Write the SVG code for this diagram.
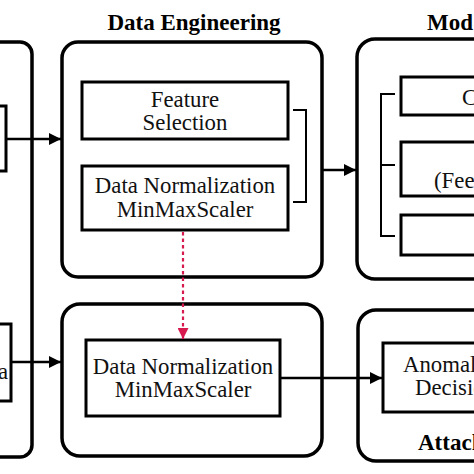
<svg xmlns="http://www.w3.org/2000/svg" width="474" height="474" viewBox="0 0 474 474">
<defs>
<style>
.outer{fill:none;stroke:#000;stroke-width:3.5}
.inner{fill:#fff;stroke:#000;stroke-width:3}
.brk{fill:none;stroke:#000;stroke-width:2}
.t{font-family:"Liberation Serif","Times New Roman",serif;font-size:22.8px;fill:#111}
.title{font-family:"Liberation Serif","Times New Roman",serif;font-size:23px;font-weight:bold;fill:#000}
.conn{fill:none;stroke:#000;stroke-width:2.5}
.dash{fill:none;stroke:#d81b4f;stroke-width:2.2;stroke-dasharray:3.5 3}
</style>
<marker id="ah" viewBox="0 0 10 10" refX="10" refY="5" markerWidth="5" markerHeight="5" markerUnits="strokeWidth" orient="auto">
<path d="M0,0 L10,5 L0,10 z" fill="#000"/>
</marker>
<marker id="ahr" viewBox="0 0 10 10" refX="10" refY="5" markerWidth="5" markerHeight="5" markerUnits="strokeWidth" orient="auto">
<path d="M0,0 L10,5 L0,10 z" fill="#d81b4f"/>
</marker>
</defs>
<rect width="474" height="474" fill="#fff"/>

<g id="input-panel">
<rect class="outer" x="-20" y="42" width="52" height="415" rx="12"/>
<rect class="inner" x="-20" y="106" width="26" height="65"/>
<rect class="inner" x="-20" y="324" width="31" height="77"/>
<text class="t" x="3" y="379" text-anchor="middle">a</text>
</g>

<g id="data-engineering">
<text class="title" x="194" y="30" text-anchor="middle">Data Engineering</text>
<rect class="outer" x="62" y="42" width="260" height="235" rx="16"/>
<g id="feature-selection">
<rect class="inner" x="82" y="82" width="206" height="57"/>
<text class="t" x="185" y="107" text-anchor="middle">Feature</text>
<text class="t" x="185" y="130" text-anchor="middle">Selection</text>
</g>
<g id="data-normalization-1">
<rect class="inner" x="82" y="166" width="206" height="64"/>
<text class="t" x="185" y="193" text-anchor="middle">Data Normalization</text>
<text class="t" x="185" y="217" text-anchor="middle">MinMaxScaler</text>
</g>
<path class="brk" d="M293,110 H306 V202 H293"/>
</g>

<g id="data-engineering-2">
<rect class="outer" x="62" y="304" width="260" height="152" rx="18"/>
<g id="data-normalization-2">
<rect class="inner" x="86" y="340" width="194" height="76"/>
<text class="t" x="183" y="374" text-anchor="middle">Data Normalization</text>
<text class="t" x="183" y="397" text-anchor="middle">MinMaxScaler</text>
</g>
</g>

<g id="models">
<text class="title" x="427" y="30">Mod</text>
<rect class="outer" x="357" y="39" width="140" height="240" rx="18"/>
<path class="brk" d="M395,94 H381 V236 H395 M381,165 H395"/>
<g id="model-1">
<rect class="inner" x="401" y="77" width="100" height="38"/>
<text class="t" x="462" y="105">C</text>
</g>
<g id="model-2">
<rect class="inner" x="401" y="142" width="100" height="54"/>
<text class="t" x="434" y="188">(Fee</text>
</g>
<g id="model-3">
<rect class="inner" x="401" y="215" width="100" height="40"/>
</g>
</g>

<g id="attack">
<rect class="outer" x="358" y="310" width="140" height="151" rx="18"/>
<text class="title" x="418" y="450">Attack</text>
<g id="anomaly">
<rect class="inner" x="383" y="343" width="120" height="69"/>
<text class="t" x="403" y="372">Anomaly</text>
<text class="t" x="415" y="395">Decision</text>
</g>
</g>

<g id="connectors">
<line class="conn" x1="6" y1="139" x2="61" y2="139" marker-end="url(#ah)"/>
<line class="conn" x1="11" y1="362" x2="61" y2="362" marker-end="url(#ah)"/>
<line class="conn" x1="322" y1="170" x2="356" y2="170" marker-end="url(#ah)"/>
<line class="conn" x1="280" y1="378" x2="382" y2="378" marker-end="url(#ah)"/>
<line class="dash" x1="183" y1="232" x2="183" y2="339" marker-end="url(#ahr)"/>
</g>
</svg>
